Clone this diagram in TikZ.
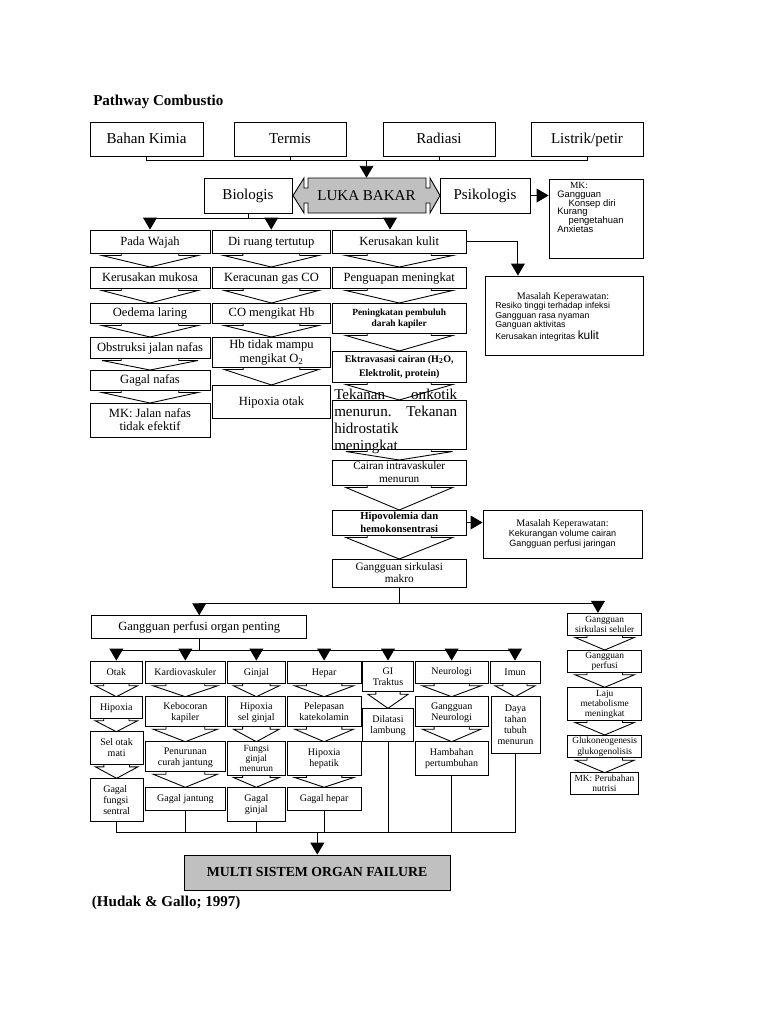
\documentclass[tikz,border=0pt]{standalone}
\usepackage{fontspec}
\setmainfont{Liberation Serif}
\newfontfamily\sansf{Liberation Sans}
\usetikzlibrary{arrows.meta,calc}
\definecolor{lbgray}{HTML}{C0C0C0}
\tikzset{
  conn/.style={draw=black, line width=0.7pt},
  arr/.style={conn, -{Triangle[width=11pt,length=9.5pt]}},
  box/.style={draw=black, line width=0.7pt, inner sep=0.5pt, align=center, font=\fontsize{8}{8.8}\selectfont},
  f12/.style={font=\fontsize{12}{13}\selectfont},
  f10/.style={font=\fontsize{10}{9.8}\selectfont},
  f9/.style={font=\fontsize{9}{10}\selectfont},
  f8/.style={font=\fontsize{8}{8.8}\selectfont},
  f75/.style={font=\fontsize{7.5}{8}\selectfont},
  pkf/.style={font=\bfseries\fontsize{7.5}{8.5}\selectfont},
  ekf/.style={font=\bfseries\fontsize{8}{11}\selectfont},
  hvf/.style={font=\bfseries\fontsize{8.5}{10}\selectfont},
  msofs/.style={fill=lbgray, font=\bfseries\fontsize{11}{13}\selectfont},
}
\newcommand{\bxstrut}{\rule[-0.14em]{0pt}{0.92em}}
\newcommand{\bx}[7][]{%
  \node[box,#1,minimum width={(#5-#3)*0.797pt},minimum height={(#6-#4)*0.797pt}] (#2) at ({(#3+#5)/2},{(#4+#6)/2}) {\bxstrut #7\bxstrut};}
\newcommand{\cbx}[8][]{%
  \bx[#1]{#2}{#3}{#4}{#5}{#6}{#8}%
  \pgfmathsetmacro\chcx{(#3+#5)/2}%
  \pgfmathsetmacro\chwa{0.24*(#5-#3)}%
  \pgfmathsetmacro\chwb{0.40*(#5-#3)}%
  \pgfmathsetmacro\chyw{#6+2.5}%
  \draw[conn] ({\chcx-\chwa},{#6}) -- ({\chcx-\chwa},{\chyw}) -- ({\chcx-\chwb},{\chyw}) -- ({\chcx},{#7}) -- ({\chcx+\chwb},{\chyw}) -- ({\chcx+\chwa},{\chyw}) -- ({\chcx+\chwa},{#6});}
\begin{document}
\begin{tikzpicture}[x=0.797pt,y=-0.797pt]
\useasboundingbox (0,0) rectangle (768,1024);
\fill[white] (0,0) rectangle (768,1024);

\node[anchor=base west, inner sep=0, font=\bfseries\fontsize{12}{14}\selectfont] (title) at (93,105) {Pathway Combustio};

% top row
\bx[f12]{bk}{90}{122}{203}{156}{Bahan Kimia}
\bx[f12]{tm}{234}{122}{346}{156}{Termis}
\bx[f12]{rd}{383}{122}{495}{156}{Radiasi}
\bx[f12]{lp}{531}{122}{643}{156}{Listrik/petir}

% second row
\bx[f12]{bio}{204}{178}{292}{213}{Biologis}
\draw[conn, fill=lbgray] (308,178) -- (426,178) -- (426,188) -- (430,188) -- (430,178) -- (440,195.5) -- (430,213) -- (430,203) -- (426,203) -- (426,213) -- (308,213) -- (308,203) -- (304,203) -- (304,213) -- (293,195.5) -- (304,178) -- (304,188) -- (308,188) -- cycle;
\node[f12, inner sep=0, minimum width={147*0.797pt}, minimum height={35*0.797pt}] (luka) at (366.5,195.5) {\bxstrut LUKA BAKAR};
\bx[f12]{psi}{440}{178}{530}{213}{Psikologis}
\bx{mk1}{549}{179}{643}{258}{}
\node[anchor=base, inner sep=0, font=\fontsize{7.5}{7}\selectfont] (mk1h) at (579,188.5) {MK:};
\node[anchor=north west, inner sep=0, align=left, font=\sansf\fontsize{7.5}{7}\selectfont] (mk1t) at (557,190.5) {Gangguan\\\hspace*{9pt}Konsep diri\\Kurang\\\hspace*{9pt}pengetahuan\\Anxietas};

% left three columns
\cbx[f10]{pw}{90}{230}{210}{253}{267}{Pada Wajah}
\cbx[f10]{dr}{212}{230}{330.5}{253}{267}{Di ruang tertutup}
\cbx[f10]{kk}{332.5}{230}{466}{253}{267}{Kerusakan kulit}

\cbx[f10]{km}{90}{267}{210}{288}{303}{Kerusakan mukosa}
\cbx[f10]{kg}{212.5}{267}{330.5}{288}{303}{Keracunan gas CO}
\cbx[f10]{pm}{332.5}{267}{466}{288}{303}{Penguapan meningkat}

\cbx[f10]{ol}{90}{303}{210}{323}{337}{Oedema laring}
\cbx[f10]{coh}{212.5}{303}{330.5}{323}{337}{CO mengikat Hb}
\cbx[pkf]{pk}{332.5}{303}{466}{333}{351}{Peningkatan pembuluh\\darah kapiler}

\cbx[f10]{ojn}{90}{337}{210}{358}{370}{Obstruksi jalan nafas}
\cbx[f10]{hb}{212.5}{337}{330.5}{367}{385}{Hb tidak mampu\\mengikat O\textsubscript{2}}
\cbx[ekf]{ek}{332.5}{351}{466}{382}{400}{Ektravasasi cairan (H\textsubscript{2}O,\\Elektrolit, protein)}

\cbx[f10]{gn}{90}{370}{210}{390}{403}{Gagal nafas}
\bx[f10]{ho}{212.5}{385}{330.5}{418}{Hipoxia otak}
\cbx{tk}{332.5}{400}{466}{449}{460}{}
\node[anchor=north west, inner sep=0, align=left, font=\fontsize{12}{13.6}\selectfont] (tkt) at (334,388.5) {\makebox[98pt][s]{Tekanan onkotik}\\\makebox[98pt][s]{menurun. Tekanan}\\hidrostatik\\meningkat};

\bx[f10]{mkj}{90}{403}{210}{437}{MK: Jalan nafas\\tidak efektif}

\cbx[f9]{ci}{332.5}{460}{466}{485}{510}{Cairan intravaskuler\\menurun}
\cbx[hvf]{hv}{332.5}{510}{466}{535}{559}{Hipovolemia dan\\hemokonsentrasi}
\bx[f9]{gsm}{332.5}{559}{466}{587}{Gangguan sirkulasi\\makro}

% nursing problem boxes
\bx{mk2}{485}{276}{643}{355}{}
\node[inner sep=0, font=\fontsize{8}{9}\selectfont] (mk2h) at (563,297) {Masalah Keperawatan:};
\node[anchor=north west, inner sep=0, align=left, font=\sansf\fontsize{7}{7.7}\selectfont] (mk2t) at (495,302) {Resiko tinggi terhadap infeksi\\Gangguan rasa nyaman\\Ganguan aktivitas\\Kerusakan integritas {\fontsize{9.5}{7.7}\selectfont kulit}};
\bx[font=\fontsize{7.2}{6.9}\selectfont]{mk3}{483}{510}{642}{558}{{\fontsize{8}{6.9}\selectfont Masalah Keperawatan:}\\{\sansf Kekurangan volume cairan}\\{\sansf Gangguan perfusi jaringan}}

% lower section
\bx[f10]{gpo}{91.7}{615.7}{306.7}{638.3}{Gangguan perfusi organ penting}

\cbx[f8]{otak}{90}{661}{142.7}{683.3}{696.7}{Otak}
\cbx[f8]{kv}{145}{661}{225.7}{683.3}{696.7}{Kardiovaskuler}
\cbx[f8]{gj}{227.7}{661}{285}{683.3}{696.7}{Ginjal}
\cbx[f8]{hp}{287.3}{661}{361}{683.3}{696.7}{Hepar}
\cbx[f8]{gi}{362.7}{661}{413.3}{691.7}{708.3}{GI\\Traktus}
\cbx[f8]{ne}{415}{661}{488.3}{683.3}{696.7}{Neurologi}
\cbx[f8]{im}{490}{661}{540}{683.3}{696.7}{Imun}

\cbx[f8]{hpx}{90}{696.7}{142.7}{718.3}{731.7}{Hipoxia}
\cbx[f8]{kb}{145}{696.7}{225.7}{726.7}{741.7}{Kebocoran\\kapiler}
\cbx[f8]{hsg}{227.7}{696.7}{285}{726.7}{741.7}{Hipoxia\\sel ginjal}
\cbx[f8]{pl}{287.3}{696.7}{361}{726.7}{741.7}{Pelepasan\\katekolamin}
\bx[f8]{dl}{362.7}{708.3}{413.3}{741.7}{Dilatasi\\lambung}
\cbx[f8]{gne}{415}{696.7}{488.3}{726.7}{741.7}{Gangguan\\Neurologi}
\bx[f8]{dt}{491}{696.7}{540}{753.3}{Daya\\tahan\\tubuh\\menurun}

\cbx[f8]{som}{90}{731.7}{143.3}{764.3}{778.3}{Sel otak\\mati}
\cbx[f8]{pcj}{145}{741.7}{225.7}{771.7}{787.3}{Penurunan\\curah jantung}
\cbx[f75]{fg}{227.7}{741.7}{285}{775}{787.3}{Fungsi\\ginjal\\menurun}
\cbx[f8]{hh}{287.3}{741.7}{361}{775}{787.3}{Hipoxia\\hepatik}
\bx[f8]{hbp}{415}{741.7}{488.3}{775}{Hambahan\\pertumbuhan}

\bx[f8, align=left]{gfs}{90}{778.3}{143.3}{821.7}{Gagal\\fungsi\\sentral}
\bx[f8]{gjt}{145}{787.3}{225.7}{810}{Gagal jantung}
\bx[f8]{ggj}{227.7}{787.3}{285}{821.7}{Gagal\\ginjal}
\bx[f8]{ghp}{287.3}{787.3}{361}{810}{Gagal hepar}

\bx[msofs]{msof}{184.3}{855}{450}{890}{MULTI SISTEM ORGAN FAILURE}

\cbx[f75]{gss}{567.7}{613.3}{641.7}{635}{650}{Gangguan\\sirkulasi seluler}
\cbx[f75]{gp}{567.7}{650}{641.7}{672.3}{687.3}{Gangguan\\perfusi}
\cbx[f75]{lm}{567.7}{687.3}{641.7}{720}{735}{Laju\\metabolisme\\meningkat}
\cbx[f75]{gg}{567.7}{735}{641.7}{757.7}{772.7}{Glukoneogenesis\\glukogenolisis}
\bx[f75]{mkn}{570.7}{772.7}{638.3}{794}{MK: Perubahan\\nutrisi}

\node[anchor=base west, inner sep=0, font=\bfseries\fontsize{12}{14}\selectfont] (src) at (91.7,906) {(Hudak \& Gallo; 1997)};

% connectors
\coordinate (t1) at (366.5,160);
\draw[conn] (bk.south) -- (bk.south |- t1) -- (lp.south |- t1) -- (lp.south);
\draw[conn] (tm.south) -- (tm.south |- t1);
\draw[conn] (rd.south) -- (rd.south |- t1);
\draw[arr] (t1) -- (luka.north);
\draw[arr] (psi.east) -- (psi.east -| mk1.west);

\coordinate (r3) at (390,218);
\draw[conn] (bio.south) -- (bio.south |- r3);
\draw[conn] (pw.north |- r3) -- (r3);
\draw[arr] (pw.north |- r3) -- (pw.north);
\draw[arr] (dr.north |- r3) -- (dr.north);
\draw[arr] (r3) -- (r3 |- kk.north);
\coordinate (k2) at ($(mk2.north west)!0.21!(mk2.north east)$);
\draw[arr] (kk.east) -| (k2);
\draw[arr] (hv.east) -- (hv.east -| mk3.west);

\coordinate (m1) at (399,603);
\coordinate (g1) at ($(gss.north west)!0.41!(gss.north east)$);
\draw[conn] (gsm.south) -- (gsm.south |- m1);
\draw[conn] (gpo.north |- m1) -- (g1 |- m1);
\draw[arr] (gpo.north |- m1) -- (gpo.north);
\draw[arr] (g1 |- m1) -- (g1);

\coordinate (o1) at (300,650);
\draw[conn] (gpo.south) -- (gpo.south |- o1);
\draw[conn] (otak.north |- o1) -- (im.north |- o1);
\foreach \n in {otak,kv,gj,hp,gi,ne,im} \draw[arr] (\n.north |- o1) -- (\n.north);

\coordinate (b1) at (317.3,832.7);
\foreach \n in {gfs,gjt,ggj,ghp,dl,hbp,dt} \draw[conn] (\n.south) -- (\n.south |- b1);
\draw[conn] (gfs.south |- b1) -- (dt.south |- b1);
\draw[arr] (b1) -- (b1 |- msof.north);
\end{tikzpicture}
\end{document}
